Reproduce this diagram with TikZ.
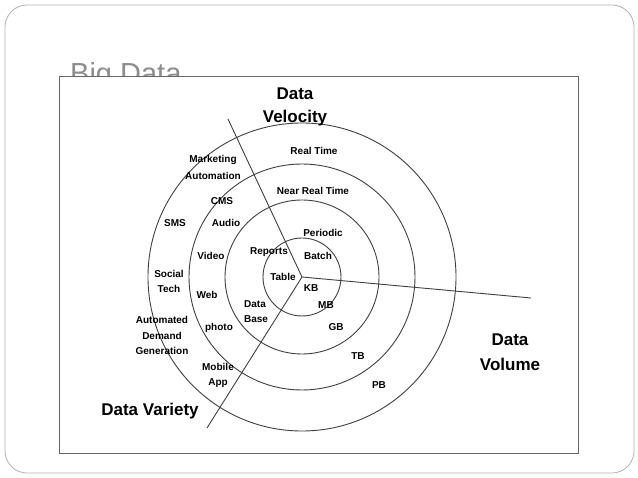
\documentclass[tikz,border=0pt]{standalone}
\usepackage{fontspec}
\setmainfont{Liberation Sans}
\begin{document}
\begin{tikzpicture}[x=1pt,y=-1pt,
  sm/.style={font=\bfseries\fontsize{10}{11}\selectfont,inner sep=0pt},
  bg/.style={font=\bfseries\fontsize{17}{20}\selectfont,inner sep=0pt},
  ring/.style={draw=black!75,line width=0.9pt}]
\useasboundingbox (0,0) rectangle (638,478);
\draw[black!30,line width=0.8pt,rounded corners=22pt] (5,5) rectangle (634,473);
\node[anchor=base west,inner sep=0pt,text=black!45,font=\fontsize{29}{32}\selectfont] (title) at (70,84) {Big Data};
\draw[black!60,fill=white,line width=0.8pt] (59,76) rectangle (578,453);
\coordinate (c) at (302,277);
\foreach \r in {39,77,113,154} \draw[ring] (c) circle (\r);
\coordinate (v) at (228,119);
\coordinate (w) at (531,298);
\coordinate (y) at (207,428);
\draw[ring] (c) -- (v); \draw[ring] (c) -- (w); \draw[ring] (c) -- (y);
\node[bg] (dv1) at (295,94) {Data};
\node[bg] (dv2) at (295,118) {Velocity};
\node[bg] (do1) at (510,340) {Data};
\node[bg] (do2) at (510,364) {Volume};
\node[bg] (dy) at (150,411) {Data Variety};
\node[sm] at (314,151) {Real Time};
\node[sm] at (213,160) {Marketing};
\node[sm] at (213,176) {Automation};
\node[sm] at (313,191) {Near Real Time};
\node[sm] at (222,201) {CMS};
\node[sm] at (175,223) {SMS};
\node[sm] at (226,223) {Audio};
\node[sm] at (323,233) {Periodic};
\node[sm] at (211,256) {Video};
\node[sm] at (269,252) {Reports};
\node[sm] at (318,256) {Batch};
\node[sm] at (169,274) {Social};
\node[sm] at (169,289) {Tech};
\node[sm] at (283,277) {Table};
\node[sm] at (311,288) {KB};
\node[sm] at (207,295) {Web};
\node[sm] at (255,304) {Data};
\node[sm] at (256,319) {Base};
\node[sm] at (326,305) {MB};
\node[sm] at (162,320) {Automated};
\node[sm] at (162,336) {Demand};
\node[sm] at (162,351) {Generation};
\node[sm] at (219,328) {photo};
\node[sm] at (336,327) {GB};
\node[sm] at (358,356) {TB};
\node[sm] at (218,367) {Mobile};
\node[sm] at (218,383) {App};
\node[sm] at (379,385) {PB};
\end{tikzpicture}
\end{document}
